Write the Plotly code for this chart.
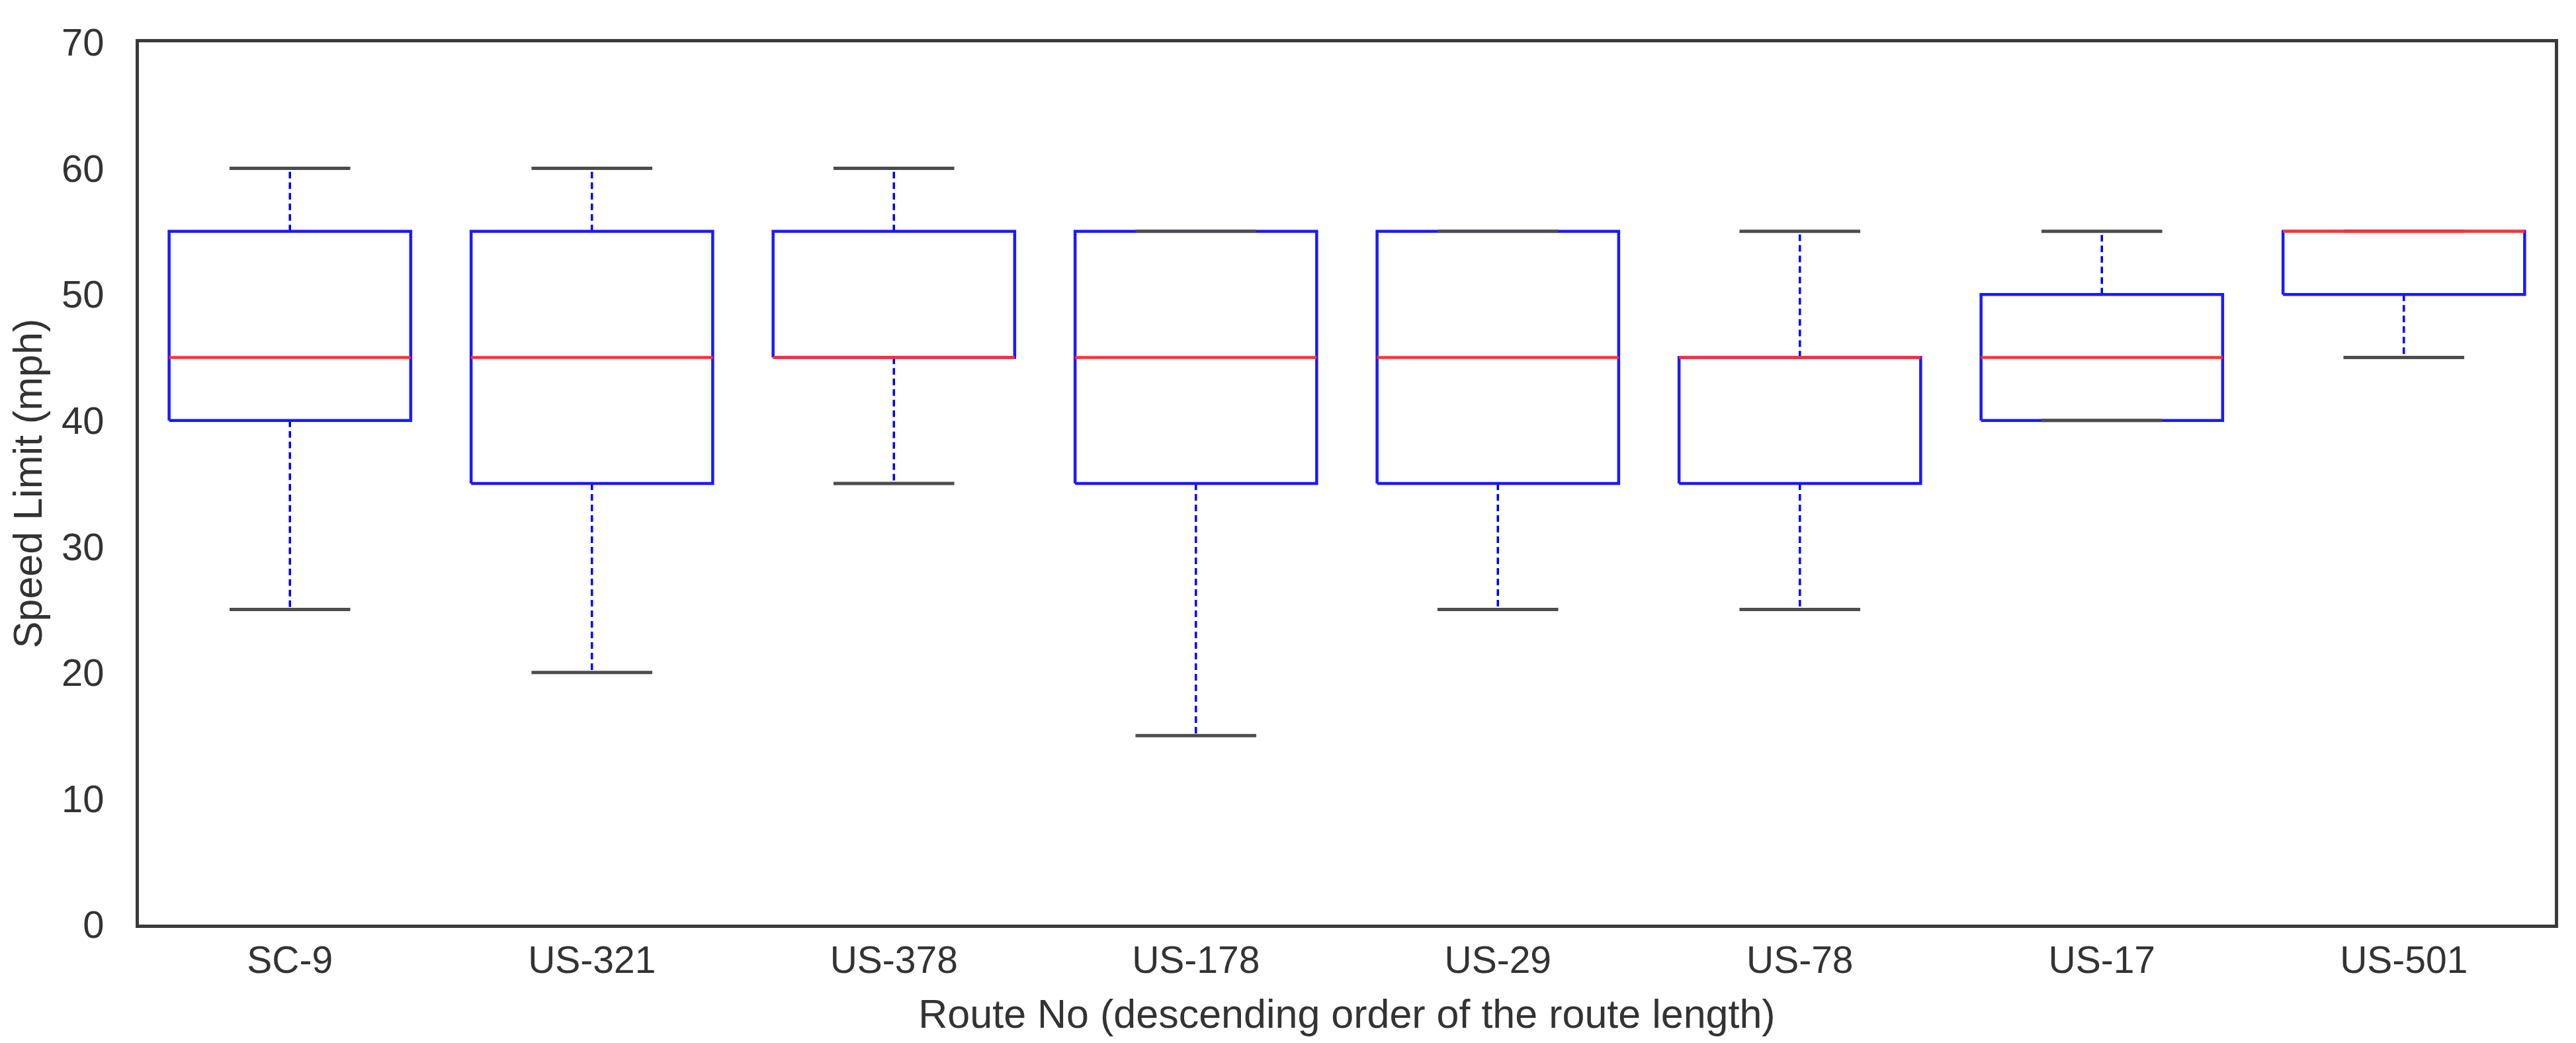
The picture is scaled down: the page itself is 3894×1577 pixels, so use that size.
import plotly.graph_objects as go

# speed limit box plot by route
routes = ["SC-9", "US-321", "US-378", "US-178", "US-29", "US-78", "US-17", "US-501"]
lower_whisker = [25, 20, 35, 15, 25, 25, 40, 45]
q1 = [40, 35, 45, 35, 35, 35, 40, 50]
median = [45, 45, 45, 45, 45, 45, 45, 55]
q3 = [55, 55, 55, 55, 55, 45, 50, 55]
upper_whisker = [60, 60, 60, 55, 55, 55, 55, 55]

pos = list(range(1, len(routes) + 1))
half_box = 0.4
half_cap = 0.2

# whiskers (dashed), box outline, caps, median lines
wx, wy = [], []
bx, by = [], []
cx, cy = [], []
mx, my = [], []
for i, p in enumerate(pos):
    wx += [p, p, None, p, p, None]
    wy += [q3[i], upper_whisker[i], None, q1[i], lower_whisker[i], None]
    bx += [p - half_box, p + half_box, p + half_box, p - half_box, p - half_box, None]
    by += [q1[i], q1[i], q3[i], q3[i], q1[i], None]
    cx += [p - half_cap, p + half_cap, None, p - half_cap, p + half_cap, None]
    cy += [upper_whisker[i], upper_whisker[i], None, lower_whisker[i], lower_whisker[i], None]
    mx += [p - half_box, p + half_box, None]
    my += [median[i], median[i], None]

fig = go.Figure()
fig.add_trace(go.Scatter(x=wx, y=wy, mode='lines',
                         line=dict(color='#0000ff', width=3.5, dash='10px,6px'),
                         hoverinfo='skip'))
fig.add_trace(go.Scatter(x=bx, y=by, mode='lines',
                         line=dict(color='#1a1aff', width=4.5),
                         hoverinfo='skip'))
fig.add_trace(go.Scatter(x=cx, y=cy, mode='lines',
                         line=dict(color='#4d4d4d', width=5),
                         hoverinfo='skip'))
fig.add_trace(go.Scatter(x=mx, y=my, mode='lines',
                         line=dict(color='#ff3333', width=4.5),
                         hoverinfo='skip'))

fig.update_layout(
    width=3894,
    height=1577,
    margin=dict(l=202, r=40, t=56, b=187),
    paper_bgcolor='white',
    plot_bgcolor='white',
    showlegend=False,
    font=dict(family='Liberation Sans, Arial, sans-serif', color='#333333', size=57),
    xaxis=dict(
        range=[0.5, 8.5],
        tickvals=pos,
        ticktext=routes,
        showgrid=False,
        zeroline=False,
        showline=True,
        mirror=True,
        linecolor='#3a3a3a',
        linewidth=5,
        ticks='',
        tickfont=dict(size=57),
        title=dict(text='Route No (descending order of the route length)',
                   font=dict(size=61), standoff=30),
    ),
    yaxis=dict(
        range=[0, 70],
        dtick=10,
        showgrid=False,
        zeroline=False,
        showline=True,
        mirror=True,
        linecolor='#3a3a3a',
        linewidth=5,
        ticks='outside',
        ticklen=36,
        tickcolor='rgba(0,0,0,0)',
        tickfont=dict(size=58),
        title=dict(text='Speed Limit (mph)', font=dict(size=61), standoff=14),
    ),
)

fig.write_html("out.html")
